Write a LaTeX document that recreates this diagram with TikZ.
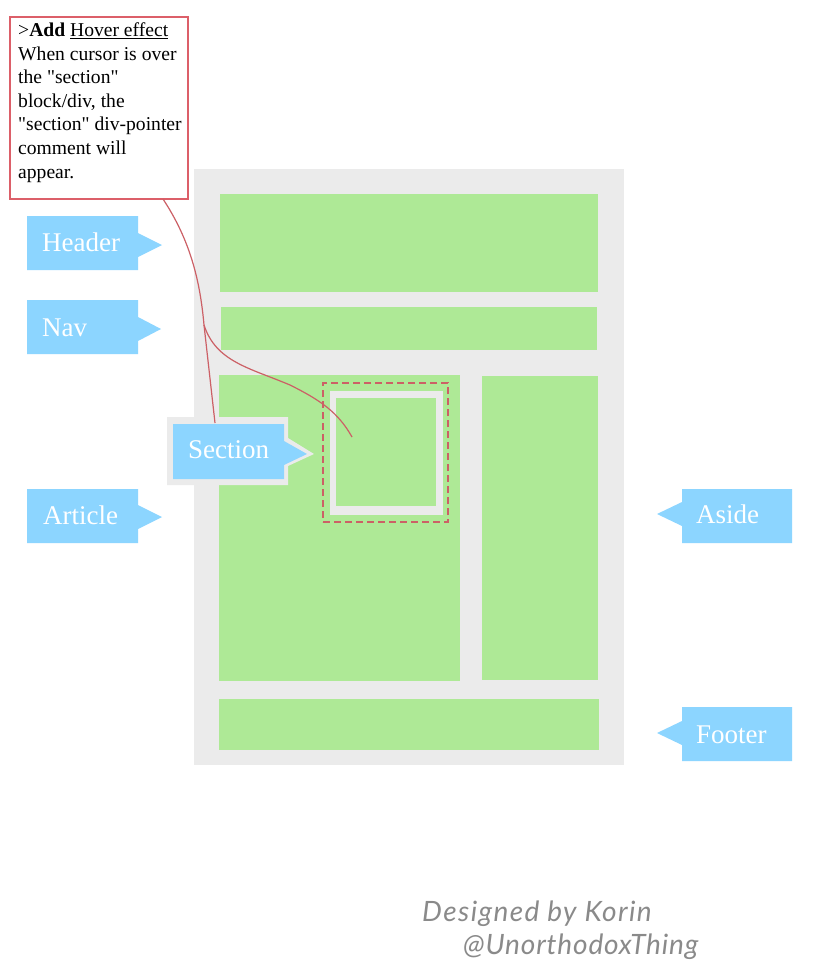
\documentclass[tikz,border=0pt]{standalone}
\usepackage{fontspec}
\setmainfont{Liberation Serif}
\newfontfamily\notefont{Liberation Serif}
\newfontfamily\signfont[LetterSpace=5]{Lato Italic}
\newfontfamily\signfontb[LetterSpace=3]{Lato Italic}
\definecolor{pagegray}{HTML}{EBEBEB}
\definecolor{leaf}{HTML}{AEE996}
\definecolor{sky}{HTML}{8CD5FF}
\definecolor{notered}{HTML}{DC5F69}
\definecolor{curvered}{HTML}{CC6066}
\definecolor{signgray}{HTML}{8A8A8A}
\tikzset{
  x=1pt,y=-1pt,
  blockbox/.style 2 args={draw=none,inner sep=0pt,outer sep=0pt,minimum width=#1,minimum height=#2},
  tagtext/.style={text=white,font=\fontsize{27}{27}\selectfont,inner sep=0pt,anchor=base west},
  curve/.style={draw=curvered,line width=1.2pt},
  signtext/.style={text=signgray,inner sep=0pt,anchor=base west}
}
\begin{document}
\begin{tikzpicture}
\useasboundingbox (0,0) rectangle (818,977);
\fill[white] (0,0) rectangle (818,977);
% page
\node[blockbox={430pt}{596pt},fill=pagegray] (page) at (409,467) {};
\node[blockbox={378pt}{98pt},fill=leaf] (header) at (409,243) {};
\node[blockbox={376pt}{43pt},fill=leaf] (nav) at (409,328.5) {};
\node[blockbox={241pt}{306pt},fill=leaf] (article) at (339.5,528) {};
\node[blockbox={116pt}{304pt},fill=leaf] (aside) at (540,528) {};
\node[blockbox={380pt}{51pt},fill=leaf] (footer) at (409,724.5) {};
% inner section
\node[blockbox={113pt}{124pt},fill=pagegray] (secouter) at (386.5,453) {};
\node[blockbox={100pt}{108pt},fill=leaf] (secinner) at (386,452) {};
\node[blockbox={125pt}{139pt},draw=curvered,line width=1.2pt,dash pattern=on 7pt off 4pt] (secdash) at (385.5,452.5) {};
% left tags
\fill[sky] (27,216) -- (138,216) -- (138,233) -- (162,245) -- (138,257) -- (138,270) -- (27,270) -- cycle;
\node[tagtext] (tagheader) at (42,251) {Header};
\fill[sky] (27,300) -- (138,300) -- (138,317) -- (161,329) -- (138,341) -- (138,354) -- (27,354) -- cycle;
\node[tagtext] (tagnav) at (42,336) {Nav};
\fill[sky] (27,489) -- (138,489) -- (138,505) -- (162,517) -- (138,529) -- (138,543) -- (27,543) -- cycle;
\node[tagtext] (tagarticle) at (43,524) {Article};
% right tags
\fill[sky] (792,489) -- (682,489) -- (682,502) -- (657,514) -- (682,526) -- (682,543) -- (792,543) -- cycle;
\node[tagtext] (tagaside) at (696,523) {Aside};
\fill[sky] (792,707) -- (682,707) -- (682,721) -- (657,733) -- (682,745) -- (682,761) -- (792,761) -- cycle;
\node[tagtext] (tagfooter) at (696,743) {Footer};
% section tag
\fill[pagegray] (167,417) -- (288,417) -- (288,438) -- (314,454) -- (288,466) -- (288,485) -- (167,485) -- cycle;
\fill[sky] (173,424) -- (284,424) -- (284,441) -- (307,454) -- (284,465) -- (284,479) -- (173,479) -- cycle;
\node[tagtext] (tagsection) at (188,458) {Section};
% note
\node[blockbox={178pt}{182pt},draw=notered,fill=white,line width=1.2pt] (note) at (99,108) {};
\node[anchor=north west,inner sep=0pt,text width=172pt,align=flush left,font=\notefont\fontsize{19.6}{23.6}\selectfont] (notetext) at (18,22.5)
 {>\textbf{Add} \underline{Hover effect}\\When cursor is over\\the "section"\\block/div, the\\"section" div-pointer\\comment will\\appear.};
% connectors
\coordinate (bend) at (204,325);
\coordinate (pointend) at (352,437);
\coordinate (sectop) at (215,423);
\coordinate (notefoot) at (163,199);
\draw[curve] (notefoot) .. controls (190,240) and (200,280) .. (bend) -- (sectop);
\draw[curve] (bend) .. controls (216,362) and (250,368) .. (290,385) .. controls (320,400) and (338,412) .. (pointend);
% signature
\node[signtext,font=\signfont\fontsize{28}{28}\selectfont] (sign1) at (422,921) {Designed by Korin};
\node[signtext,font=\signfontb\fontsize{28}{28}\selectfont] (sign2) at (463,954) {@UnorthodoxThing};
\end{tikzpicture}
\end{document}
